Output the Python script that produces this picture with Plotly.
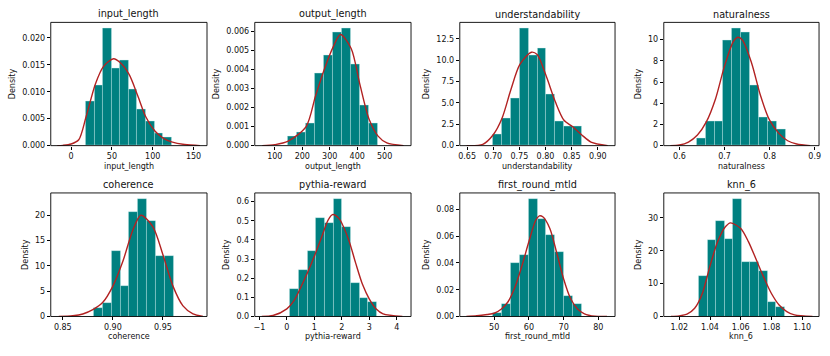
import plotly.graph_objects as go

# ---- data (density histograms + smoothed density curve) ----
titles = ["input_length", "output_length", "understandability", "naturalness",
          "coherence", "pythia-reward", "first_round_mtld", "knn_6"]

input_length_edges = [18, 28.5, 39, 49.5, 60, 70.5, 81, 91.5, 102, 112.5, 123]
input_length_density = [0.00824, 0.0112, 0.02176, 0.01424, 0.01576, 0.01048, 0.00667, 0.00442, 0.0023, 0.00152]
input_length_curve_x = [-17, -10, 0, 9.3, 18.2, 29.6, 39.7, 52, 60, 71, 81.5, 91.6, 102.6, 112.7, 123, 139, 158]
input_length_curve_y = [0, 0.00005, 0.0003, 0.0011, 0.0053, 0.0114, 0.0147, 0.0161, 0.0154, 0.0132, 0.0093, 0.0053, 0.0027, 0.0014, 0.0007, 0.0002, 0]

output_length_edges = [148, 180.8, 213.6, 246.4, 279.2, 312, 344.8, 377.6, 410.4, 443.2, 476]
output_length_density = [0.00048, 0.00071, 0.00117, 0.00381, 0.00474, 0.00595, 0.00616, 0.00428, 0.00212, 0.00117]
output_length_curve_x = [54, 100, 147, 214, 248, 280, 313, 339, 378, 410, 443, 476, 508, 569]
output_length_curve_y = [0, 0.00005, 0.00022, 0.001, 0.0026, 0.004, 0.0052, 0.00583, 0.0051, 0.0032, 0.0014, 0.0005, 0.00014, 0]

understandability_edges = [0.700, 0.7169, 0.7338, 0.7507, 0.7676, 0.7845, 0.8014, 0.8183, 0.8352, 0.8521, 0.869]
understandability_density = [1.34, 3.18, 5.48, 13.73, 10.54, 11.43, 5.94, 2.8, 2.3, 2.3]
understandability_curve_x = [0.649, 0.68, 0.70, 0.7168, 0.734, 0.751, 0.773, 0.784, 0.801, 0.819, 0.835, 0.852, 0.869, 0.887, 0.919]
understandability_curve_y = [0, 0.15, 1.27, 3.2, 6.6, 9.5, 10.93, 10.66, 8.2, 5.1, 3.0, 2.2, 1.27, 0.42, 0]

naturalness_edges = [0.6375, 0.6574, 0.6774, 0.6973, 0.7172, 0.7372, 0.7571, 0.7770, 0.7970, 0.8169, 0.8368]
naturalness_density = [0.71, 2.26, 2.26, 9.91, 11.08, 10.71, 5.73, 2.66, 2.26, 1.49]
naturalness_curve_x = [0.58, 0.60, 0.62, 0.64, 0.66, 0.68, 0.70, 0.72, 0.73, 0.74, 0.76, 0.78, 0.80, 0.82, 0.84, 0.86, 0.89]
naturalness_curve_y = [0, 0.06, 0.34, 1.0, 2.26, 4.4, 7.5, 9.85, 10.22, 9.94, 7.8, 4.7, 2.4, 1.18, 0.46, 0.15, 0]

coherence_edges = [0.8807, 0.8896, 0.8985, 0.9074, 0.9163, 0.9252, 0.9340, 0.9429, 0.9518, 0.9607]
coherence_density = [1.62, 2.6, 12.86, 6.04, 20.65, 23.25, 18.9, 12.0, 12.0]
coherence_curve_x = [0.846, 0.86, 0.87, 0.88, 0.89, 0.90, 0.91, 0.92, 0.928, 0.94, 0.95, 0.96, 0.97, 0.98, 0.99]
coherence_curve_y = [0, 0.15, 0.5, 1.36, 2.8, 6.0, 10.9, 17.1, 20.0, 17.7, 12.2, 6.0, 2.1, 0.5, 0]

pythia_reward_edges = [0.121, 0.435, 0.750, 1.064, 1.379, 1.693, 2.007, 2.322, 2.636, 2.951, 3.265]
pythia_reward_density = [0.146, 0.244, 0.343, 0.515, 0.49, 0.614, 0.467, 0.173, 0.098, 0.074]
pythia_reward_curve_x = [-0.91, -0.5, 0, 0.25, 0.5, 0.75, 1.0, 1.25, 1.5, 1.66, 1.9, 2.25, 2.5, 2.75, 3.0, 3.25, 3.5, 4.2]
pythia_reward_curve_y = [0, 0.005, 0.04, 0.08, 0.15, 0.228, 0.314, 0.408, 0.503, 0.532, 0.511, 0.40, 0.28, 0.168, 0.091, 0.039, 0.014, 0]

mtld_edges = [49.7, 52.25, 54.8, 57.35, 59.9, 62.45, 65.0, 67.55, 70.1, 72.65, 75.2]
mtld_density = [0.003, 0.009, 0.0398, 0.0456, 0.0878, 0.0727, 0.0605, 0.0483, 0.0151, 0.009]
mtld_curve_x = [42, 45, 48, 50, 52, 54, 56, 58, 60, 62, 63, 64, 66, 68, 70, 72, 74, 76, 79, 82.5]
mtld_curve_y = [0, 0.0005, 0.0015, 0.0024, 0.0054, 0.011, 0.022, 0.0378, 0.056, 0.072, 0.0751, 0.0744, 0.0659, 0.0476, 0.028, 0.0134, 0.0056, 0.002, 0.0002, 0]

knn_6_edges = [1.0329, 1.0385, 1.0440, 1.0496, 1.0551, 1.0607, 1.0662, 1.0718, 1.0773, 1.0829, 1.0884]
knn_6_density = [12.4, 23.3, 29.0, 23.5, 35.8, 16.6, 16.6, 13.9, 4.5, 3.0]
knn_6_curve_x = [1.0146, 1.02, 1.025, 1.03, 1.035, 1.04, 1.045, 1.05, 1.0533, 1.06, 1.065, 1.07, 1.075, 1.08, 1.085, 1.09, 1.095, 1.1067]
knn_6_curve_y = [0, 0.2, 0.7, 2.5, 7.0, 15.4, 22.8, 27.3, 28.5, 26.8, 22.8, 17.4, 11.9, 7.0, 3.5, 1.5, 0.5, 0]

panels = [
    (input_length_edges, input_length_density, input_length_curve_x, input_length_curve_y),
    (output_length_edges, output_length_density, output_length_curve_x, output_length_curve_y),
    (understandability_edges, understandability_density, understandability_curve_x, understandability_curve_y),
    (naturalness_edges, naturalness_density, naturalness_curve_x, naturalness_curve_y),
    (coherence_edges, coherence_density, coherence_curve_x, coherence_curve_y),
    (pythia_reward_edges, pythia_reward_density, pythia_reward_curve_x, pythia_reward_curve_y),
    (mtld_edges, mtld_density, mtld_curve_x, mtld_curve_y),
    (knn_6_edges, knn_6_density, knn_6_curve_x, knn_6_curve_y),
]

# ---- axis settings (range, tick step, tick format) ----
x_axes = [([-25, 166.5], 50, None), ([27, 596], 100, None), ([0.636, 0.933], 0.05, ".2f"),
          ([0.5654, 0.9096], 0.1, ".1f"), ([0.838, 0.994], 0.05, ".2f"), ([-1.165, 4.515], 1, None),
          ([40.1, 84.8], 10, None), ([1.0099, 1.111], 0.02, ".2f")]
y_axes = [([0, 0.02285], 0.005, ".3f"), ([0, 0.00647], 0.001, ".3f"), ([0, 14.42], 2.5, ".1f"),
          ([0, 11.63], 2, None), ([0, 24.4], 5, None), ([0, 0.645], 0.1, ".1f"),
          ([0, 0.0922], 0.02, ".2f"), ([0, 37.6], 10, None)]

W, H = 830, 356
col_px = [(49, 206), (254, 411), (460, 616), (665, 821)]
row_px = [(22.7, 147.7), (195.7, 321)]

FONT = "DejaVu Sans, sans-serif"
fig = go.Figure()
annotations = []
shapes = []

for i, (edges, dens, cx, cy) in enumerate(panels):
    r, c = divmod(i, 4)
    xa = "x" if i == 0 else f"x{i+1}"
    ya = "y" if i == 0 else f"y{i+1}"
    centers = [(edges[k] + edges[k + 1]) / 2 for k in range(len(dens))]
    widths = [edges[k + 1] - edges[k] for k in range(len(dens))]
    fig.add_trace(go.Bar(x=centers, y=dens, width=widths, marker_color="#008080",
                         marker_line=dict(color="rgba(200,235,235,0.6)", width=0.6),
                         xaxis=xa, yaxis=ya, showlegend=False))
    fig.add_trace(go.Scatter(x=cx, y=cy, mode="lines", line=dict(color="#b22222", width=1.4, shape="spline", smoothing=0.8),
                             xaxis=xa, yaxis=ya, showlegend=False))

    x0, x1 = col_px[c]
    top, bot = row_px[r]
    xrng, xdt, xfmt = x_axes[i]
    yrng, ydt, yfmt = y_axes[i]
    fig.layout[("xaxis" if i == 0 else f"xaxis{i+1}")] = dict(
        domain=[x0 / W, x1 / W], anchor=ya, range=xrng, dtick=xdt, tick0=0, tickformat=xfmt)
    fig.layout[("yaxis" if i == 0 else f"yaxis{i+1}")] = dict(
        domain=[1 - bot / H, 1 - top / H], anchor=xa, range=yrng, dtick=ydt, tick0=0, tickformat=yfmt,
        title=dict(text="Density", font=dict(family=FONT, size=8, color="#111"), standoff=5))
    # frame around the panel
    shapes.append(dict(type="rect", xref=f"{xa} domain", yref=f"{ya} domain", x0=0, x1=1, y0=0, y1=1,
                       line=dict(color="black", width=0.9), fillcolor="rgba(0,0,0,0)", layer="above"))
    # panel title and x label
    annotations.append(dict(text=titles[i], x=(x0 + x1) / 2 / W, y=1 - (top - 8.5) / H,
                            xref="paper", yref="paper", showarrow=False, xanchor="center", yanchor="middle",
                            font=dict(family=FONT, size=9.7, color="#111")))
    annotations.append(dict(text=titles[i], x=(x0 + x1) / 2 / W, y=1 - (bot + 20.7) / H,
                            xref="paper", yref="paper", showarrow=False, xanchor="center", yanchor="middle",
                            font=dict(family=FONT, size=8, color="#111")))

axis_style = dict(showline=False, ticks="outside", ticklen=3, tickwidth=0.8, tickcolor="black",
                  showgrid=False, zeroline=False, tickfont=dict(family=FONT, size=8, color="#111"))
fig.update_xaxes(**axis_style)
fig.update_yaxes(**axis_style)

fig.update_layout(width=W, height=H, margin=dict(l=0, r=0, t=0, b=0),
                  paper_bgcolor="white", plot_bgcolor="white", bargap=0,
                  annotations=annotations, shapes=shapes, font=dict(family=FONT))

fig.write_html("out.html", config={"displayModeBar": False},
               post_script="document.body.style.margin='0';document.body.style.overflow='hidden';")
